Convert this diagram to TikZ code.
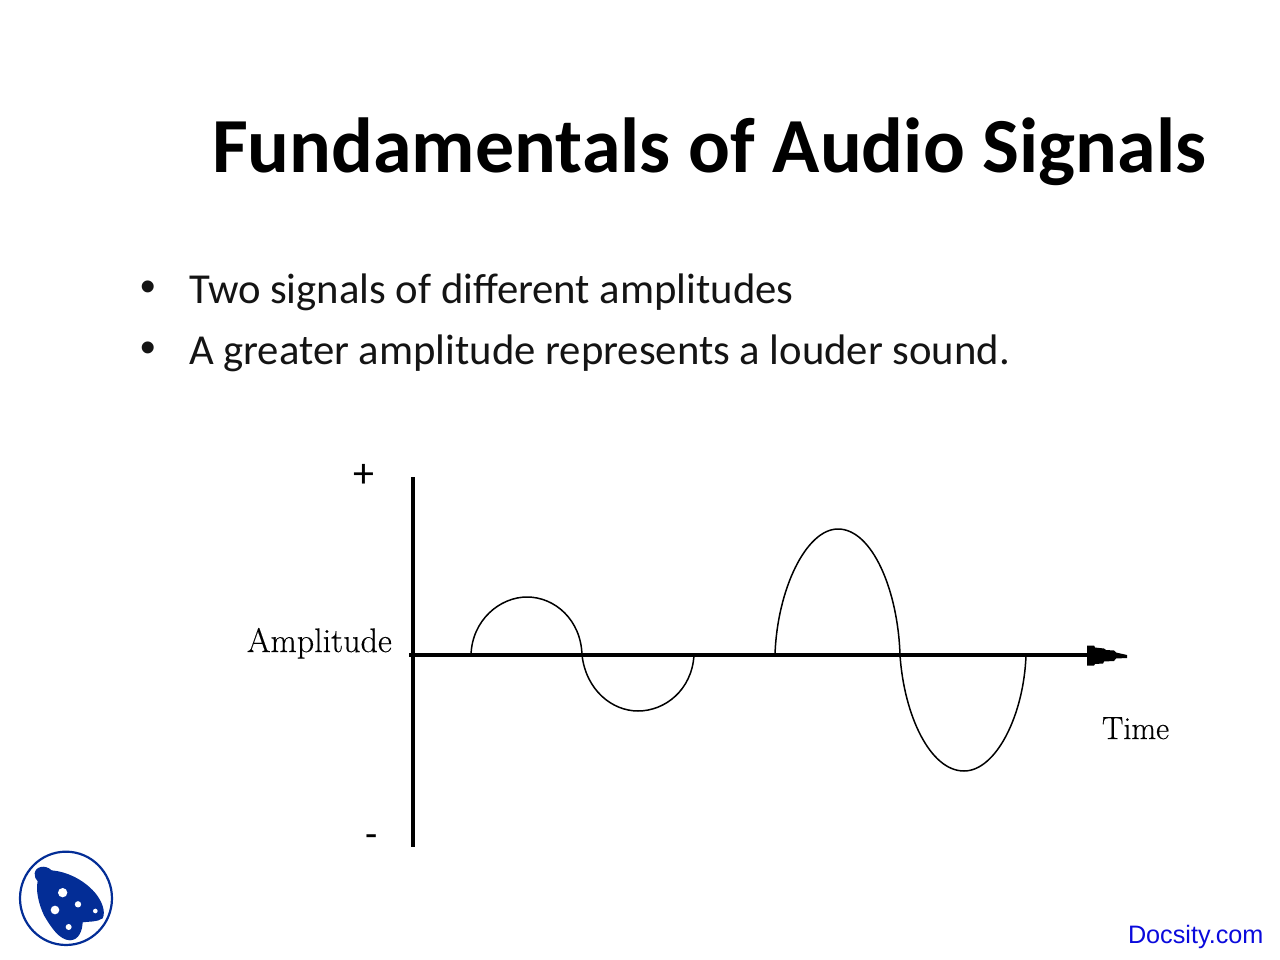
\documentclass[tikz,border=0pt]{standalone}
\usepackage{fontspec}
\setmainfont{Carlito}
\newfontfamily\slab[FakeBold=0.4]{Latin Modern Roman}
\newfontfamily\docs{Liberation Sans}
\definecolor{logoblue}{RGB}{3,45,150}
\definecolor{docsblue}{RGB}{10,10,220}
\tikzset{
  every node/.style={inner sep=0pt,outer sep=0pt},
  titletext/.style={anchor=base west,font=\fontsize{78}{84}\selectfont\bfseries},
  bodytext/.style={anchor=base west,font=\fontsize{42.7}{48}\selectfont,text=black!92},
  bullettext/.style={anchor=base west,font=\docs\fontsize{44}{50}\selectfont,text=black!92},
  charttext/.style={anchor=base west,font=\slab\fontsize{34}{36}\selectfont},
  timetext/.style={anchor=base west,font=\slab\fontsize{32}{36}\selectfont},
  axisline/.style={line width=4pt,black},
  wave/.style={line width=1.5pt,black},
}
\begin{document}
\begin{tikzpicture}[x=1pt,y=-1pt]
\useasboundingbox (0,0) rectangle (1280,960);
\fill[white] (0,0) rectangle (1280,960);
\node[titletext] (title) at (212,172.5) {Fundamentals of Audio Signals};
\node[bullettext] (b1) at (140,301) {•};
\node[bodytext] (l1) at (189,303) {Two signals of different amplitudes};
\node[bullettext] (b2) at (140,362) {•};
\node[bodytext] (l2) at (189,364) {A greater amplitude represents a louder sound.};
% axes
\coordinate (ytop) at (413,477);
\coordinate (ybot) at (413,847);
\coordinate (xstart) at (409,655);
\coordinate (xend) at (1090,655);
\draw[axisline] (ytop) -- (ybot);
\draw[axisline] (xstart) -- (xend);
\fill[black] (1087,645.5) -- (1094,645.5) -- (1095,647.5) -- (1104,648.5) -- (1106,650) -- (1114,650.5) -- (1116,652.5) -- (1127,655) -- (1127,658) -- (1116,658.5) -- (1114,661) -- (1104,661.5) -- (1103,663.5) -- (1095,664) -- (1094,665.5) -- (1087,665.5) -- cycle;
% waves
\draw[wave] (471,655) .. controls (472,620) and (500,597) .. (527,597) .. controls (555,597) and (581,620) .. (582,655);
\draw[wave] (582,655) .. controls (586,690) and (612,711) .. (638,711) .. controls (665,711) and (692,690) .. (694,655);
\draw[wave] (775,655) .. controls (777,590) and (806,529) .. (838,529) .. controls (872,529) and (898,590) .. (900,655);
\draw[wave] (900,655) .. controls (904,715) and (930,771) .. (964,771) .. controls (996,771) and (1024,715) .. (1026,655);
% labels
\node[charttext] (amp) at (247,652) {Amplitude};
\node[timetext] (time) at (1102,739) {Time};
\node[anchor=center,font=\fontsize{42}{46}\selectfont] (plus) at (364,476) {+};
\node[anchor=base,font=\fontsize{40}{46}\selectfont] (minus) at (371.5,847) {-};
% logo
\begin{scope}[shift={(0,840)},x=0.3333pt,y=-0.3333pt]
\draw[logoblue,line width=2.2pt] (198,175) ellipse [x radius=138,y radius=140];
\fill[logoblue] (104,100) .. controls (106,80) and (135,72) .. (155,91) .. controls (200,95) and (250,118) .. (285,158) .. controls (306,183) and (318,215) .. (308,235) .. controls (292,247) and (265,244) .. (248,247) .. controls (247,272) and (237,300) .. (210,301) .. controls (178,300) and (153,262) .. (132,226) .. controls (115,190) and (107,150) .. (113,124) .. controls (107,117) and (103,110) .. (104,100) -- cycle;
\fill[white] (188,158) circle [radius=14];
\fill[white] (165,210) circle [radius=13];
\fill[white] (234,193) circle [radius=9.5];
\fill[white] (286,213) circle [radius=7];
\fill[white] (206,261) circle [radius=9];
\end{scope}
\node[anchor=base west,font=\docs\fontsize{25.2}{28}\selectfont,text=docsblue] (brand) at (1128,943) {Docsity.com};
\end{tikzpicture}
\end{document}
